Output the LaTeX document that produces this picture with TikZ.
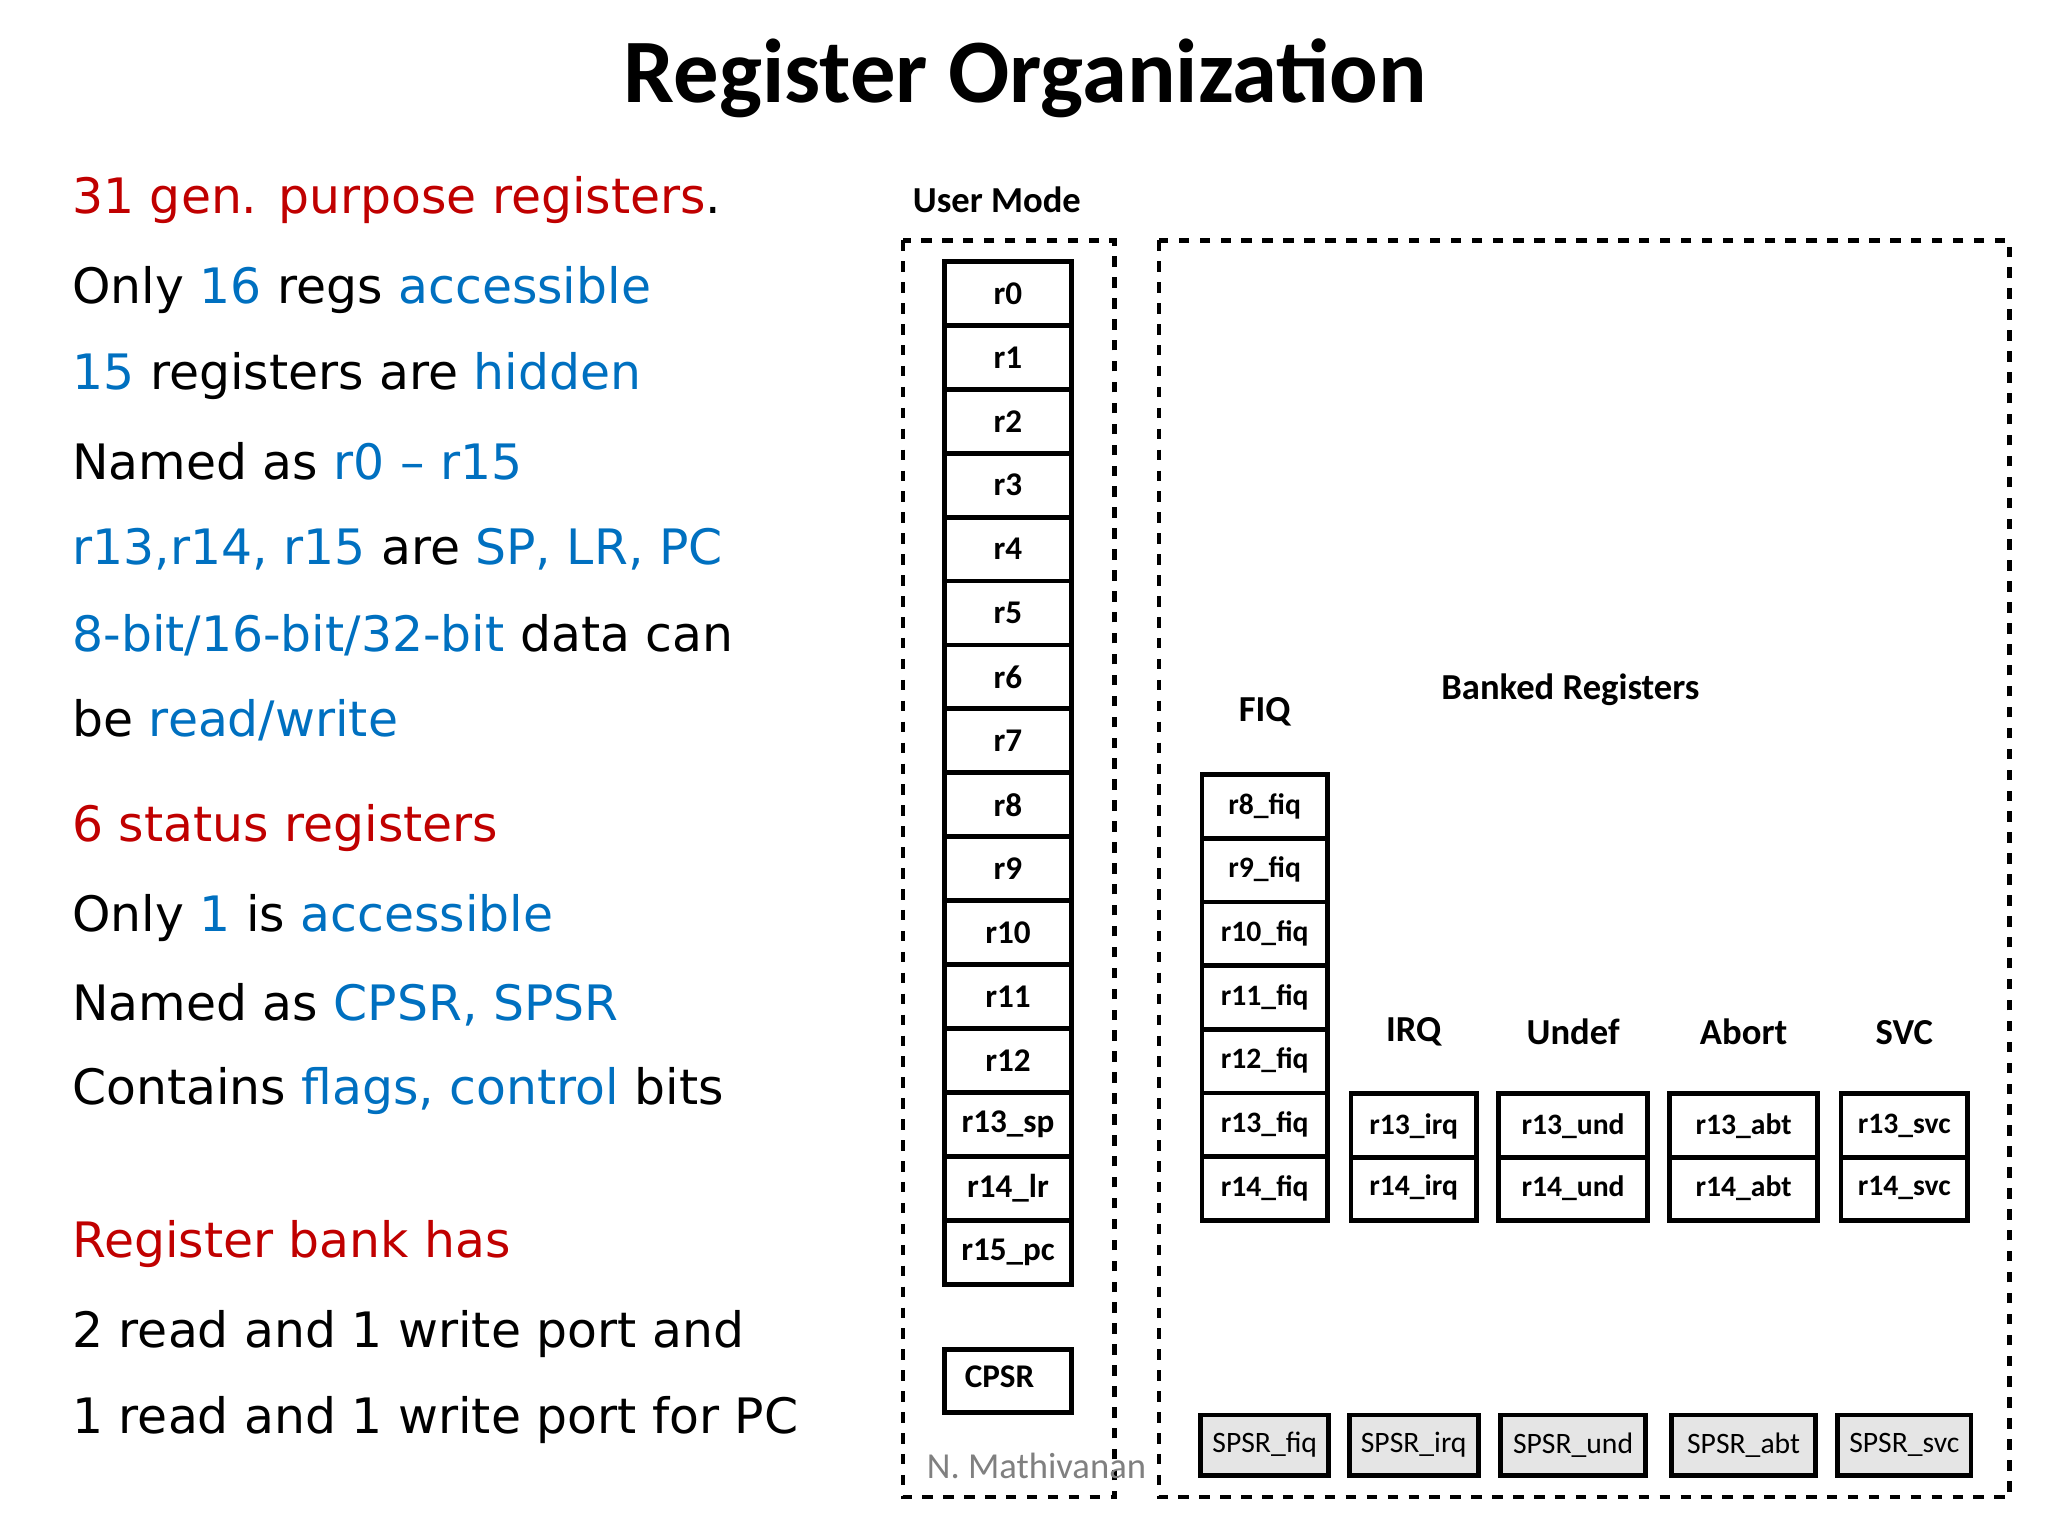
\documentclass[tikz,border=0pt]{standalone}
\usepackage{fontspec}
\setmainfont{Carlito}
\newfontfamily\comic{DejaVu Sans}
\begin{document}
\begin{tikzpicture}[x=0.01317cm,y=-0.01317cm,
  lbl/.style={font=\bfseries\fontsize{10.5}{11}\selectfont},
  dbox/.style={draw,dashed,line width=1.2pt},
  spsr/.style={draw,line width=1.4pt,fill=gray!20,font=\fontsize{8.5}{10}\selectfont},
  txt/.style={anchor=west,font=\comic\fontsize{14}{16}\selectfont}]
\useasboundingbox (0,0) rectangle (1567.5,1175.3);
\definecolor{cr}{RGB}{192,0,0}
\definecolor{cb}{RGB}{0,112,192}
\node (title) at (785,60) {\bfseries\fontsize{26}{30}\selectfont Register Organization};
\def\R#1{\textcolor{cr}{#1}}
\def\B#1{\textcolor{cb}{#1}}
\node[txt] (t1) at (46,153) {\R{31 gen. purpose registers}.};
\node[txt] (t2) at (46,222) {Only \B{16} regs \B{accessible}};
\node[txt] (t3) at (46,288) {\B{15} registers are \B{hidden}};
\node[txt] (t4) at (46,353) {Named as \B{r0 – r15}};
\node[txt] (t5) at (46,420) {\B{r13,r14, r15} are \B{SP, LR, PC}};
\node[txt] (t6) at (46,486) {\B{8-bit/16-bit/32-bit} data can};
\node[txt] (t7) at (46,551) {be \B{read/write}};
\node[txt] (t8) at (46,634) {\R{6 status registers}};
\node[txt] (t9) at (46,703) {Only \B{1} is \B{accessible}};
\node[txt] (t10) at (46,769) {Named as \B{CPSR, SPSR}};
\node[txt] (t11) at (46,835) {Contains \B{flags, control} bits};
\node[txt] (t12) at (46,952) {\R{Register bank has}};
\node[txt] (t13) at (46,1021) {2 read and 1 write port and};
\node[txt] (t14) at (46,1087) {1 read and 1 write port for PC};

\draw[dbox] (691,184) rectangle (853,1146);
\draw[dbox] (887,184) rectangle (1538,1146);
\node[lbl] (um) at (763,153) {User Mode};
\node[lbl] (bk) at (1202,528) {Banked Registers};
\node[text=gray,anchor=west,font=\fontsize{10.5}{11}\selectfont] (nm) at (700,1122) {N. Mathivanan};

\foreach \n [count=\i from 0] in {r0,r1,r2,r3,r4,r5,r6,r7,r8,r9,r10,r11,r12,r13\_sp,r14\_lr,r15\_pc}{
  \draw[line width=1.4pt] (723,{200+\i*48.94}) rectangle (820,{200+(\i+1)*48.94});
  \node[font=\bfseries\fontsize{9.5}{10}\selectfont] (u\i) at (771.5,{224.5+\i*48.94}) {\n};
}
\draw[line width=1.4pt] (723,1033) rectangle (820,1081);
\node[font=\bfseries\fontsize{9.5}{10}\selectfont] (cpsr) at (765,1054) {CPSR};

\node[lbl] (fiq) at (968,545) {FIQ};
\foreach \n [count=\i from 0] in {r8,r9,r10,r11,r12,r13,r14}{
  \draw[line width=1.4pt] (920,{593+\i*48.7}) rectangle (1016,{593+(\i+1)*48.7});
  \node[font=\bfseries\fontsize{8.5}{10}\selectfont] (f\i) at (968,{617+\i*48.7}) {\n\_fiq};
}
\foreach \a/\b/\lab/\s [count=\k] in {1034/1130/IRQ/irq,1147/1261/Undef/und,1278/1391/Abort/abt,1409/1506/SVC/svc}{
  \node[lbl] (m\k) at ({(\a+\b)/2},790) {\lab};
  \draw[line width=1.4pt] (\a,837) rectangle (\b,934);
  \draw[line width=1.4pt] (\a,886) -- (\b,886);
  \node[font=\bfseries\fontsize{8.5}{10}\selectfont] (a\k) at ({(\a+\b)/2},862) {r13\_\s};
  \node[font=\bfseries\fontsize{8.5}{10}\selectfont] (b\k) at ({(\a+\b)/2},909) {r14\_\s};
}
\foreach \a/\b/\s [count=\k] in {920/1016/fiq,1034/1130/irq,1147/1261/und,1278/1391/abt,1409/1506/svc}{
  \node[spsr,minimum height=46*0.01317cm,minimum width={(\b-\a-3)*0.01317cm}] (s\k) at ({(\a+\b)/2},1106) {SPSR\_\s};
}
\end{tikzpicture}
\end{document}
